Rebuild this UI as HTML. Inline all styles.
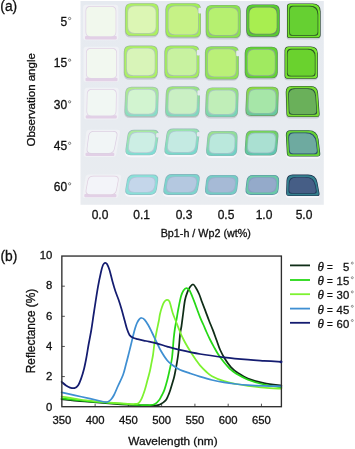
<!DOCTYPE html>
<html><head><meta charset="utf-8"><style>
html,body{margin:0;padding:0;background:#fff;}
body{width:355px;height:449px;overflow:hidden;position:relative;font-family:"Liberation Sans",sans-serif;}
svg{position:absolute;left:0;top:0;will-change:transform;}
text{stroke:#111;stroke-width:0.3px;}
</style></head><body>
<svg width="355" height="449" viewBox="0 0 355 449" font-family="Liberation Sans, sans-serif" font-size="11.3" fill="#111">
<defs>
<linearGradient id="bg" x1="0" y1="0" x2="0" y2="1">
<stop offset="0" stop-color="#e6eaf0"/><stop offset="0.6" stop-color="#e7ebf0"/><stop offset="1" stop-color="#e9ecf0"/>
</linearGradient>
<linearGradient id="g2_1" x1="0" y1="0" x2="0.25" y2="1"><stop offset="0" stop-color="#b4ec84"/><stop offset="1" stop-color="#88dcc8"/></linearGradient><linearGradient id="g2_2" x1="0" y1="0" x2="0.25" y2="1"><stop offset="0" stop-color="#a0e670"/><stop offset="1" stop-color="#80d8c0"/></linearGradient><linearGradient id="g2_3" x1="0" y1="0" x2="0.25" y2="1"><stop offset="0" stop-color="#a0e468"/><stop offset="1" stop-color="#78d4b8"/></linearGradient><linearGradient id="g2_4" x1="0" y1="0" x2="0.25" y2="1"><stop offset="0" stop-color="#90dc38"/><stop offset="1" stop-color="#68c8a0"/></linearGradient><linearGradient id="g3_1" x1="0" y1="0" x2="0.25" y2="1"><stop offset="0" stop-color="#b0ec98"/><stop offset="1" stop-color="#80dcd4"/></linearGradient><linearGradient id="g3_2" x1="0" y1="0" x2="0.25" y2="1"><stop offset="0" stop-color="#a0e6a8"/><stop offset="1" stop-color="#78d8cc"/></linearGradient><linearGradient id="g3_3" x1="0" y1="0" x2="0.25" y2="1"><stop offset="0" stop-color="#a0e288"/><stop offset="1" stop-color="#70d0c4"/></linearGradient><linearGradient id="g3_4" x1="0" y1="0" x2="0.25" y2="1"><stop offset="0" stop-color="#78d44c"/><stop offset="1" stop-color="#60c4b0"/></linearGradient>
</defs>
<rect x="80.5" y="1" width="243.3" height="203.8" fill="url(#bg)"/>
<path d="M83.00,7.70 Q83.00,4.70 86.00,4.70 L115.30,4.70 Q118.30,4.70 118.30,7.70 L118.30,37.20 Q118.30,40.20 115.30,40.20 L86.00,40.20 Q83.00,40.20 83.00,37.20 Z" fill="#f0f1f5"/><path d="M85.00,37.00 Q85.00,36.00 86.00,36.00 L115.80,36.00 Q116.80,36.00 116.80,37.00 L116.80,38.40 Q116.80,39.40 115.80,39.40 L86.00,39.40 Q85.00,39.40 85.00,38.40 Z" fill="#e2d0e6"/><path d="M85.50,11.00 Q85.50,6.00 90.50,6.00 L111.30,6.00 Q116.30,6.00 116.30,11.00 L116.30,32.00 Q116.30,37.00 111.30,37.00 L90.50,37.00 Q85.50,37.00 85.50,32.00 Z" fill="#e0d2e6"/><path d="M86.20,11.20 Q86.20,6.70 90.70,6.70 L111.10,6.70 Q115.60,6.70 115.60,11.20 L115.60,31.80 Q115.60,36.30 111.10,36.30 L90.70,36.30 Q86.20,36.30 86.20,31.80 Z" fill="#f1f8ed"/><path d="M124.80,10.60 Q124.80,4.60 130.80,4.60 L152.40,4.60 Q158.40,4.60 158.40,10.60 L158.40,31.50 Q158.40,37.50 152.40,37.50 L130.80,37.50 Q124.80,37.50 124.80,31.50 Z" fill="#c8ccd4"/><path d="M125.10,9.20 Q125.10,3.20 131.10,3.20 L152.70,3.20 Q158.70,3.20 158.70,9.20 L158.70,30.10 Q158.70,36.10 152.70,36.10 L131.10,36.10 Q125.10,36.10 125.10,30.10 Z" fill="#98b890"/><path d="M125.70,9.40 Q125.70,3.80 131.30,3.80 L152.50,3.80 Q158.10,3.80 158.10,9.40 L158.10,29.90 Q158.10,35.50 152.50,35.50 L131.30,35.50 Q125.70,35.50 125.70,29.90 Z" fill="#acf060"/><path d="M127.40,11.50 Q127.40,5.50 133.40,5.50 L150.40,5.50 Q156.40,5.50 156.40,11.50 L156.40,27.80 Q156.40,33.80 150.40,33.80 L133.40,33.80 Q127.40,33.80 127.40,27.80 Z" fill="#b4ccac"/><path d="M128.10,12.70 Q128.10,6.20 134.60,6.20 L149.20,6.20 Q155.70,6.20 155.70,12.70 L155.70,26.60 Q155.70,33.10 149.20,33.10 L134.60,33.10 Q128.10,33.10 128.10,26.60 Z" fill="#dcf6b4"/><path d="M165.20,10.60 Q165.20,4.60 171.20,4.60 L194.70,4.60 Q200.70,4.60 200.70,10.60 L200.70,32.80 Q200.70,38.80 194.70,38.80 L171.20,38.80 Q165.20,38.80 165.20,32.80 Z" fill="#c8ccd4"/><path d="M165.50,9.20 Q165.50,3.20 171.50,3.20 L195.00,3.20 Q201.00,3.20 201.00,9.20 L201.00,31.40 Q201.00,37.40 195.00,37.40 L171.50,37.40 Q165.50,37.40 165.50,31.40 Z" fill="#90b488"/><path d="M166.10,9.40 Q166.10,3.80 171.70,3.80 L194.80,3.80 Q200.40,3.80 200.40,9.40 L200.40,31.20 Q200.40,36.80 194.80,36.80 L171.70,36.80 Q166.10,36.80 166.10,31.20 Z" fill="#a0ee54"/><path d="M167.80,11.50 Q167.80,5.50 173.80,5.50 L192.70,5.50 Q198.70,5.50 198.70,11.50 L198.70,29.10 Q198.70,35.10 192.70,35.10 L173.80,35.10 Q167.80,35.10 167.80,29.10 Z" fill="#a4bca8"/><path d="M168.50,12.70 Q168.50,6.20 175.00,6.20 L191.50,6.20 Q198.00,6.20 198.00,12.70 L198.00,27.90 Q198.00,34.40 191.50,34.40 L175.00,34.40 Q168.50,34.40 168.50,27.90 Z" fill="#c6f286"/><rect x="198.40" y="7.65" width="3.2" height="5.81" rx="1.2" fill="#e6eaf0"/><path d="M205.50,12.40 Q205.50,6.40 211.50,6.40 L234.50,6.40 Q240.50,6.40 240.50,12.40 L240.50,33.40 Q240.50,39.40 234.50,39.40 L211.50,39.40 Q205.50,39.40 205.50,33.40 Z" fill="#c8ccd4"/><path d="M205.80,11.00 Q205.80,5.00 211.80,5.00 L234.80,5.00 Q240.80,5.00 240.80,11.00 L240.80,32.00 Q240.80,38.00 234.80,38.00 L211.80,38.00 Q205.80,38.00 205.80,32.00 Z" fill="#80a880"/><path d="M206.40,11.20 Q206.40,5.60 212.00,5.60 L234.60,5.60 Q240.20,5.60 240.20,11.20 L240.20,31.80 Q240.20,37.40 234.60,37.40 L212.00,37.40 Q206.40,37.40 206.40,31.80 Z" fill="#8ae44c"/><path d="M208.10,13.30 Q208.10,7.30 214.10,7.30 L232.50,7.30 Q238.50,7.30 238.50,13.30 L238.50,29.70 Q238.50,35.70 232.50,35.70 L214.10,35.70 Q208.10,35.70 208.10,29.70 Z" fill="#98b494"/><path d="M208.80,14.50 Q208.80,8.00 215.30,8.00 L231.30,8.00 Q237.80,8.00 237.80,14.50 L237.80,28.50 Q237.80,35.00 231.30,35.00 L215.30,35.00 Q208.80,35.00 208.80,28.50 Z" fill="#b6f070"/><path d="M246.00,11.80 Q246.00,5.80 252.00,5.80 L273.40,5.80 Q279.40,5.80 279.40,11.80 L279.40,32.20 Q279.40,38.20 273.40,38.20 L252.00,38.20 Q246.00,38.20 246.00,32.20 Z" fill="#c8ccd4"/><path d="M246.30,10.40 Q246.30,4.40 252.30,4.40 L273.70,4.40 Q279.70,4.40 279.70,10.40 L279.70,30.80 Q279.70,36.80 273.70,36.80 L252.30,36.80 Q246.30,36.80 246.30,30.80 Z" fill="#4a6c50"/><path d="M246.90,10.60 Q246.90,5.00 252.50,5.00 L273.50,5.00 Q279.10,5.00 279.10,10.60 L279.10,30.60 Q279.10,36.20 273.50,36.20 L252.50,36.20 Q246.90,36.20 246.90,30.60 Z" fill="#58cc30"/><path d="M248.60,12.70 Q248.60,6.70 254.60,6.70 L271.40,6.70 Q277.40,6.70 277.40,12.70 L277.40,28.50 Q277.40,34.50 271.40,34.50 L254.60,34.50 Q248.60,34.50 248.60,28.50 Z" fill="#668e64"/><path d="M249.30,13.90 Q249.30,7.40 255.80,7.40 L270.20,7.40 Q276.70,7.40 276.70,13.90 L276.70,27.30 Q276.70,33.80 270.20,33.80 L255.80,33.80 Q249.30,33.80 249.30,27.30 Z" fill="#a8ee50"/><path d="M286.70,7.90 Q286.70,4.90 289.70,4.90 L312.30,4.90 Q320.30,4.90 320.30,12.90 L320.30,36.40 Q320.30,39.40 317.30,39.40 L288.70,39.40 Q286.70,39.40 286.70,37.40 Z" fill="#c8ccd4"/><path d="M287.00,6.50 Q287.00,3.50 290.00,3.50 L312.60,3.50 Q320.60,3.50 320.60,11.50 L320.60,35.00 Q320.60,38.00 317.60,38.00 L289.00,38.00 Q287.00,38.00 287.00,36.00 Z" fill="#1e3a22"/><path d="M287.60,6.70 Q287.60,4.10 290.20,4.10 L312.40,4.10 Q320.00,4.10 320.00,11.70 L320.00,34.80 Q320.00,37.40 317.40,37.40 L289.20,37.40 Q287.60,37.40 287.60,35.80 Z" fill="#72e22e"/><path d="M289.30,8.80 Q289.30,5.80 292.30,5.80 L310.30,5.80 Q318.30,5.80 318.30,13.80 L318.30,32.70 Q318.30,35.70 315.30,35.70 L291.30,35.70 Q289.30,35.70 289.30,33.70 Z" fill="#2a5226"/><path d="M290.00,10.00 Q290.00,6.50 293.50,6.50 L309.10,6.50 Q317.60,6.50 317.60,15.00 L317.60,31.50 Q317.60,35.00 314.10,35.00 L292.50,35.00 Q290.00,35.00 290.00,32.50 Z" fill="#66d032"/><path d="M83.50,49.70 Q83.50,46.70 86.50,46.70 L116.00,46.70 Q119.00,46.70 119.00,49.70 L119.00,79.00 Q119.00,82.00 116.00,82.00 L86.50,82.00 Q83.50,82.00 83.50,79.00 Z" fill="#f0f1f5"/><path d="M85.50,78.80 Q85.50,77.80 86.50,77.80 L116.50,77.80 Q117.50,77.80 117.50,78.80 L117.50,80.20 Q117.50,81.20 116.50,81.20 L86.50,81.20 Q85.50,81.20 85.50,80.20 Z" fill="#e2d0e6"/><path d="M86.00,53.00 Q86.00,48.00 91.00,48.00 L112.00,48.00 Q117.00,48.00 117.00,53.00 L117.00,73.80 Q117.00,78.80 112.00,78.80 L91.00,78.80 Q86.00,78.80 86.00,73.80 Z" fill="#e0d2e6"/><path d="M86.70,53.20 Q86.70,48.70 91.20,48.70 L111.80,48.70 Q116.30,48.70 116.30,53.20 L116.30,73.60 Q116.30,78.10 111.80,78.10 L91.20,78.10 Q86.70,78.10 86.70,73.60 Z" fill="#f2f8f0"/><path d="M123.60,53.00 Q123.60,47.00 129.60,47.00 L151.40,47.00 Q157.40,47.00 157.40,53.00 L157.40,73.70 Q157.40,79.70 151.40,79.70 L129.60,79.70 Q123.60,79.70 123.60,73.70 Z" fill="#c8ccd4"/><path d="M123.90,51.60 Q123.90,45.60 129.90,45.60 L151.70,45.60 Q157.70,45.60 157.70,51.60 L157.70,72.30 Q157.70,78.30 151.70,78.30 L129.90,78.30 Q123.90,78.30 123.90,72.30 Z" fill="#98b898"/><path d="M124.50,51.80 Q124.50,46.20 130.10,46.20 L151.50,46.20 Q157.10,46.20 157.10,51.80 L157.10,72.10 Q157.10,77.70 151.50,77.70 L130.10,77.70 Q124.50,77.70 124.50,72.10 Z" fill="#acf064"/><path d="M126.20,53.90 Q126.20,47.90 132.20,47.90 L149.40,47.90 Q155.40,47.90 155.40,53.90 L155.40,70.00 Q155.40,76.00 149.40,76.00 L132.20,76.00 Q126.20,76.00 126.20,70.00 Z" fill="#b0c8b4"/><path d="M126.90,55.10 Q126.90,48.60 133.40,48.60 L148.20,48.60 Q154.70,48.60 154.70,55.10 L154.70,68.80 Q154.70,75.30 148.20,75.30 L133.40,75.30 Q126.90,75.30 126.90,68.80 Z" fill="#d8f4b8"/><path d="M164.20,53.00 Q164.20,47.00 170.20,47.00 L193.10,47.00 Q199.10,47.00 199.10,53.00 L199.10,73.70 Q199.10,79.70 193.10,79.70 L170.20,79.70 Q164.20,79.70 164.20,73.70 Z" fill="#c8ccd4"/><path d="M164.50,51.60 Q164.50,45.60 170.50,45.60 L193.40,45.60 Q199.40,45.60 199.40,51.60 L199.40,72.30 Q199.40,78.30 193.40,78.30 L170.50,78.30 Q164.50,78.30 164.50,72.30 Z" fill="#90b490"/><path d="M165.10,51.80 Q165.10,46.20 170.70,46.20 L193.20,46.20 Q198.80,46.20 198.80,51.80 L198.80,72.10 Q198.80,77.70 193.20,77.70 L170.70,77.70 Q165.10,77.70 165.10,72.10 Z" fill="#a4ee5c"/><path d="M166.80,53.90 Q166.80,47.90 172.80,47.90 L191.10,47.90 Q197.10,47.90 197.10,53.90 L197.10,70.00 Q197.10,76.00 191.10,76.00 L172.80,76.00 Q166.80,76.00 166.80,70.00 Z" fill="#a8c0ac"/><path d="M167.50,55.10 Q167.50,48.60 174.00,48.60 L189.90,48.60 Q196.40,48.60 196.40,55.10 L196.40,68.80 Q196.40,75.30 189.90,75.30 L174.00,75.30 Q167.50,75.30 167.50,68.80 Z" fill="#c8f2a0"/><rect x="196.80" y="49.85" width="3.2" height="5.56" rx="1.2" fill="#e6eaf0"/><path d="M204.70,53.70 Q204.70,47.70 210.70,47.70 L232.50,47.70 Q238.50,47.70 238.50,53.70 L238.50,74.80 Q238.50,80.80 232.50,80.80 L210.70,80.80 Q204.70,80.80 204.70,74.80 Z" fill="#c8ccd4"/><path d="M205.00,52.30 Q205.00,46.30 211.00,46.30 L232.80,46.30 Q238.80,46.30 238.80,52.30 L238.80,73.40 Q238.80,79.40 232.80,79.40 L211.00,79.40 Q205.00,79.40 205.00,73.40 Z" fill="#84b080"/><path d="M205.60,52.50 Q205.60,46.90 211.20,46.90 L232.60,46.90 Q238.20,46.90 238.20,52.50 L238.20,73.20 Q238.20,78.80 232.60,78.80 L211.20,78.80 Q205.60,78.80 205.60,73.20 Z" fill="#90e454"/><path d="M207.30,54.60 Q207.30,48.60 213.30,48.60 L230.50,48.60 Q236.50,48.60 236.50,54.60 L236.50,71.10 Q236.50,77.10 230.50,77.10 L213.30,77.10 Q207.30,77.10 207.30,71.10 Z" fill="#a0b8a4"/><path d="M208.00,55.80 Q208.00,49.30 214.50,49.30 L229.30,49.30 Q235.80,49.30 235.80,55.80 L235.80,69.90 Q235.80,76.40 229.30,76.40 L214.50,76.40 Q208.00,76.40 208.00,69.90 Z" fill="#baf078"/><rect x="236.20" y="50.60" width="3.2" height="5.63" rx="1.2" fill="#e6eaf0"/><path d="M244.50,54.10 Q244.50,48.10 250.50,48.10 L271.50,48.10 Q277.50,48.10 277.50,54.10 L277.50,73.70 Q277.50,79.70 271.50,79.70 L250.50,79.70 Q244.50,79.70 244.50,73.70 Z" fill="#c8ccd4"/><path d="M244.80,52.70 Q244.80,46.70 250.80,46.70 L271.80,46.70 Q277.80,46.70 277.80,52.70 L277.80,72.30 Q277.80,78.30 271.80,78.30 L250.80,78.30 Q244.80,78.30 244.80,72.30 Z" fill="#5a8c58"/><path d="M245.40,52.90 Q245.40,47.30 251.00,47.30 L271.60,47.30 Q277.20,47.30 277.20,52.90 L277.20,72.10 Q277.20,77.70 271.60,77.70 L251.00,77.70 Q245.40,77.70 245.40,72.10 Z" fill="#62d234"/><path d="M247.10,55.00 Q247.10,49.00 253.10,49.00 L269.50,49.00 Q275.50,49.00 275.50,55.00 L275.50,70.00 Q275.50,76.00 269.50,76.00 L253.10,76.00 Q247.10,76.00 247.10,70.00 Z" fill="#88ac88"/><path d="M247.80,56.20 Q247.80,49.70 254.30,49.70 L268.30,49.70 Q274.80,49.70 274.80,56.20 L274.80,68.80 Q274.80,75.30 268.30,75.30 L254.30,75.30 Q247.80,75.30 247.80,68.80 Z" fill="#a0ea60"/><path d="M284.30,51.80 Q284.30,47.80 288.30,47.80 L310.50,47.80 Q317.50,47.80 317.50,54.80 L317.50,77.20 Q317.50,80.20 314.50,80.20 L287.30,80.20 Q284.30,80.20 284.30,77.20 Z" fill="#c8ccd4"/><path d="M284.60,50.40 Q284.60,46.40 288.60,46.40 L310.80,46.40 Q317.80,46.40 317.80,53.40 L317.80,75.80 Q317.80,78.80 314.80,78.80 L287.60,78.80 Q284.60,78.80 284.60,75.80 Z" fill="#1e4020"/><path d="M285.20,50.60 Q285.20,47.00 288.80,47.00 L310.60,47.00 Q317.20,47.00 317.20,53.60 L317.20,75.60 Q317.20,78.20 314.60,78.20 L287.80,78.20 Q285.20,78.20 285.20,75.60 Z" fill="#7ae434"/><path d="M286.90,52.70 Q286.90,48.70 290.90,48.70 L308.50,48.70 Q315.50,48.70 315.50,55.70 L315.50,73.50 Q315.50,76.50 312.50,76.50 L289.90,76.50 Q286.90,76.50 286.90,73.50 Z" fill="#2a5226"/><path d="M287.60,53.90 Q287.60,49.40 292.10,49.40 L307.30,49.40 Q314.80,49.40 314.80,56.90 L314.80,72.30 Q314.80,75.80 311.30,75.80 L291.10,75.80 Q287.60,75.80 287.60,72.30 Z" fill="#6ad22e"/><path d="M84.43,90.70 Q84.50,87.70 87.50,87.70 L115.80,87.70 Q118.80,87.70 118.75,90.70 L118.35,116.40 Q118.30,119.40 115.30,119.40 L86.80,119.40 Q83.80,119.40 83.87,116.40 Z" fill="#f0f1f5"/><path d="M85.80,116.20 Q85.80,115.20 86.80,115.20 L115.80,115.20 Q116.80,115.20 116.80,116.20 L116.80,117.60 Q116.80,118.60 115.80,118.60 L86.80,118.60 Q85.80,118.60 85.80,117.60 Z" fill="#e2d0e6"/><path d="M86.87,94.00 Q87.00,89.00 92.00,89.00 L111.80,89.00 Q116.80,89.00 116.71,94.00 L116.39,111.20 Q116.30,116.20 111.30,116.20 L91.30,116.20 Q86.30,116.20 86.43,111.20 Z" fill="#e0d2e6"/><path d="M87.57,94.20 Q87.68,89.70 92.18,89.70 L111.59,89.70 Q116.09,89.70 116.00,94.20 L115.70,111.00 Q115.61,115.50 111.11,115.50 L91.52,115.50 Q87.02,115.50 87.13,111.00 Z" fill="#f1f7f3"/><path d="M124.96,94.20 Q125.20,88.20 131.20,88.20 L152.50,88.20 Q158.50,88.20 158.34,94.20 L157.86,112.10 Q157.70,118.10 151.70,118.10 L130.00,118.10 Q124.00,118.10 124.24,112.10 Z" fill="#c8ccd4"/><path d="M125.26,92.80 Q125.50,86.80 131.50,86.80 L152.80,86.80 Q158.80,86.80 158.64,92.80 L158.16,110.70 Q158.00,116.70 152.00,116.70 L130.30,116.70 Q124.30,116.70 124.54,110.70 Z" fill="#a0c0b0"/><path d="M125.85,93.00 Q126.08,87.40 131.68,87.40 L152.58,87.40 Q158.18,87.40 158.03,93.00 L157.57,110.50 Q157.42,116.10 151.82,116.10 L130.52,116.10 Q124.92,116.10 125.15,110.50 Z" fill="url(#g2_1)"/><path d="M127.47,95.10 Q127.71,89.10 133.71,89.10 L150.44,89.10 Q156.44,89.10 156.28,95.10 L155.92,108.40 Q155.76,114.40 149.76,114.40 L132.69,114.40 Q126.69,114.40 126.93,108.40 Z" fill="#b4ccc8"/><path d="M128.12,96.29 Q128.38,89.80 134.88,89.80 L149.22,89.80 Q155.72,89.80 155.54,96.30 L155.25,107.20 Q155.08,113.70 148.58,113.70 L133.92,113.70 Q127.42,113.70 127.68,107.21 Z" fill="#d2f4d0"/><path d="M165.66,93.70 Q165.90,87.70 171.90,87.70 L193.90,87.70 Q199.90,87.70 199.74,93.70 L199.26,112.10 Q199.10,118.10 193.10,118.10 L170.70,118.10 Q164.70,118.10 164.94,112.10 Z" fill="#c8ccd4"/><path d="M165.96,92.30 Q166.20,86.30 172.20,86.30 L194.20,86.30 Q200.20,86.30 200.04,92.30 L199.56,110.70 Q199.40,116.70 193.40,116.70 L171.00,116.70 Q165.00,116.70 165.24,110.70 Z" fill="#98bca8"/><path d="M166.56,92.50 Q166.78,86.90 172.38,86.90 L193.98,86.90 Q199.58,86.90 199.44,92.50 L198.96,110.50 Q198.82,116.10 193.22,116.10 L171.22,116.10 Q165.62,116.10 165.85,110.50 Z" fill="url(#g2_2)"/><path d="M168.17,94.60 Q168.41,88.60 174.41,88.60 L191.84,88.60 Q197.84,88.60 197.68,94.60 L197.32,108.40 Q197.16,114.40 191.16,114.40 L173.39,114.40 Q167.39,114.40 167.63,108.40 Z" fill="#acc8c4"/><path d="M168.83,95.79 Q169.08,89.30 175.58,89.30 L190.62,89.30 Q197.12,89.30 196.95,95.80 L196.65,107.20 Q196.48,113.70 189.98,113.70 L174.62,113.70 Q168.12,113.70 168.38,107.21 Z" fill="#caf0c4"/><rect x="197.44" y="90.25" width="3.2" height="5.17" rx="1.2" fill="#e6eaf0"/><path d="M205.66,94.90 Q205.90,88.90 211.90,88.90 L232.40,88.90 Q238.40,88.90 238.24,94.90 L237.76,112.40 Q237.60,118.40 231.60,118.40 L210.70,118.40 Q204.70,118.40 204.94,112.40 Z" fill="#c8ccd4"/><path d="M205.96,93.50 Q206.20,87.50 212.20,87.50 L232.70,87.50 Q238.70,87.50 238.54,93.50 L238.06,111.00 Q237.90,117.00 231.90,117.00 L211.00,117.00 Q205.00,117.00 205.24,111.00 Z" fill="#8cb49c"/><path d="M206.55,93.70 Q206.78,88.10 212.38,88.10 L232.48,88.10 Q238.08,88.10 237.93,93.70 L237.47,110.80 Q237.32,116.40 231.72,116.40 L211.22,116.40 Q205.62,116.40 205.85,110.80 Z" fill="url(#g2_3)"/><path d="M208.16,95.80 Q208.41,89.80 214.41,89.80 L230.34,89.80 Q236.34,89.80 236.17,95.80 L235.82,108.70 Q235.66,114.70 229.66,114.70 L213.40,114.70 Q207.40,114.70 207.64,108.70 Z" fill="#a8c8c0"/><path d="M208.82,96.99 Q209.08,90.50 215.58,90.50 L229.12,90.50 Q235.62,90.50 235.44,97.00 L235.16,107.50 Q234.98,114.00 228.48,114.00 L214.62,114.00 Q208.12,114.00 208.39,107.51 Z" fill="#c0eeb8"/><path d="M245.95,94.09 Q246.20,88.10 252.20,88.10 L272.50,88.10 Q278.50,88.10 278.34,94.10 L277.86,111.30 Q277.70,117.30 271.70,117.30 L251.00,117.30 Q245.00,117.30 245.25,111.31 Z" fill="#c8ccd4"/><path d="M246.25,92.69 Q246.50,86.70 252.50,86.70 L272.80,86.70 Q278.80,86.70 278.64,92.70 L278.16,109.90 Q278.00,115.90 272.00,115.90 L251.30,115.90 Q245.30,115.90 245.55,109.91 Z" fill="#6a9a60"/><path d="M246.85,92.90 Q247.08,87.30 252.68,87.30 L272.58,87.30 Q278.18,87.30 278.03,92.90 L277.57,109.70 Q277.42,115.30 271.82,115.30 L251.53,115.30 Q245.93,115.30 246.16,109.70 Z" fill="url(#g2_4)"/><path d="M248.46,94.99 Q248.71,89.00 254.71,89.00 L270.44,89.00 Q276.44,89.00 276.27,95.00 L275.93,107.60 Q275.76,113.60 269.76,113.60 L253.70,113.60 Q247.70,113.60 247.94,107.61 Z" fill="#94bca8"/><path d="M249.11,96.19 Q249.38,89.70 255.88,89.70 L269.22,89.70 Q275.72,89.70 275.54,96.20 L275.26,106.40 Q275.08,112.90 268.58,112.90 L254.93,112.90 Q248.43,112.90 248.69,106.41 Z" fill="#a6e6a8"/><path d="M285.49,93.40 Q285.30,87.40 291.30,87.40 L310.30,87.40 Q317.30,87.40 317.79,94.38 L319.29,115.51 Q319.50,118.50 316.50,118.50 L289.30,118.50 Q286.30,118.50 286.20,115.50 Z" fill="#c8ccd4"/><path d="M285.79,92.00 Q285.60,86.00 291.60,86.00 L310.60,86.00 Q317.60,86.00 318.09,92.98 L319.59,114.11 Q319.80,117.10 316.80,117.10 L289.60,117.10 Q286.60,117.10 286.50,114.10 Z" fill="#22482e"/><path d="M286.40,92.20 Q286.22,86.60 291.82,86.60 L310.44,86.60 Q317.04,86.60 317.51,93.18 L318.97,113.91 Q319.16,116.50 316.56,116.50 L289.78,116.50 Q287.18,116.50 287.10,113.90 Z" fill="#78dc30"/><path d="M288.17,94.30 Q287.98,88.30 293.98,88.30 L308.46,88.30 Q315.46,88.30 315.95,95.28 L317.12,111.81 Q317.33,114.80 314.33,114.80 L291.83,114.80 Q288.83,114.80 288.73,111.80 Z" fill="#2a5040"/><path d="M288.91,95.50 Q288.70,89.00 295.20,89.00 L307.30,89.00 Q314.80,89.00 315.33,96.48 L316.33,110.61 Q316.58,114.10 313.08,114.10 L293.01,114.10 Q289.51,114.10 289.39,110.60 Z" fill="#6ab05a"/><path d="M86.17,132.68 Q86.50,129.70 89.50,129.70 L117.30,129.70 Q120.30,129.70 119.81,132.66 L116.29,153.94 Q115.80,156.90 112.80,156.90 L86.50,156.90 Q83.50,156.90 83.83,153.92 Z" fill="#f0f1f5"/><path d="M85.50,153.70 Q85.50,152.70 86.50,152.70 L113.30,152.70 Q114.30,152.70 114.30,153.70 L114.30,155.10 Q114.30,156.10 113.30,156.10 L86.50,156.10 Q85.50,156.10 85.50,155.10 Z" fill="#e2d0e6"/><path d="M88.34,135.96 Q89.00,131.00 94.00,131.00 L113.30,131.00 Q118.30,131.00 117.33,135.90 L114.77,148.80 Q113.80,153.70 108.80,153.70 L91.00,153.70 Q86.00,153.70 86.66,148.74 Z" fill="#dccfe2"/><path d="M89.02,136.16 Q89.61,131.70 94.11,131.70 L112.95,131.70 Q117.45,131.70 116.57,136.11 L114.10,148.59 Q113.23,153.00 108.73,153.00 L91.30,153.00 Q86.80,153.00 87.39,148.54 Z" fill="#f1f5f6"/><path d="M127.06,137.74 Q127.90,131.80 133.90,131.80 L153.20,131.80 Q159.20,131.80 158.34,137.74 L156.36,151.36 Q155.50,157.30 149.50,157.30 L130.30,157.30 Q124.30,157.30 125.14,151.36 Z" fill="#f6f6fa"/><path d="M127.36,135.74 Q128.20,129.80 134.20,129.80 L153.50,129.80 Q159.50,129.80 158.64,135.74 L156.66,149.36 Q155.80,155.30 149.80,155.30 L130.60,155.30 Q124.60,155.30 125.44,149.36 Z" fill="#98bcbc"/><path d="M127.94,135.95 Q128.72,130.40 134.32,130.40 L153.21,130.40 Q158.81,130.40 158.00,135.94 L156.08,149.16 Q155.28,154.70 149.68,154.70 L130.89,154.70 Q125.29,154.70 126.07,149.15 Z" fill="url(#g3_1)"/><path d="M129.36,138.04 Q130.20,132.10 136.20,132.10 L150.84,132.10 Q156.84,132.10 155.98,138.04 L154.67,147.06 Q153.81,153.00 147.81,153.00 L133.25,153.00 Q127.25,153.00 128.09,147.06 Z" fill="#b4ccd4"/><path d="M129.90,139.24 Q130.81,132.80 137.31,132.80 L149.53,132.80 Q156.03,132.80 155.10,139.23 L154.14,145.87 Q153.20,152.30 146.70,152.30 L134.55,152.30 Q128.05,152.30 128.96,145.86 Z" fill="#cceee4"/><rect x="156.16" y="133.12" width="3.2" height="4.33" rx="1.2" fill="#e6eaf0"/><path d="M166.09,136.54 Q166.90,130.60 172.90,130.60 L193.90,130.60 Q199.90,130.60 199.20,136.56 L197.50,151.04 Q196.80,157.00 190.80,157.00 L169.30,157.00 Q163.30,157.00 164.11,151.06 Z" fill="#f6f6fa"/><path d="M166.39,134.54 Q167.20,128.60 173.20,128.60 L194.20,128.60 Q200.20,128.60 199.50,134.56 L197.80,149.04 Q197.10,155.00 191.10,155.00 L169.60,155.00 Q163.60,155.00 164.41,149.06 Z" fill="#94b8b8"/><path d="M166.97,134.75 Q167.72,129.20 173.32,129.20 L193.93,129.20 Q199.53,129.20 198.87,134.76 L197.22,148.84 Q196.57,154.40 190.97,154.40 L169.89,154.40 Q164.29,154.40 165.04,148.85 Z" fill="url(#g3_2)"/><path d="M168.40,136.84 Q169.21,130.90 175.21,130.90 L191.61,130.90 Q197.61,130.90 196.91,136.86 L195.75,146.74 Q195.05,152.70 189.05,152.70 L172.23,152.70 Q166.23,152.70 167.05,146.76 Z" fill="#acc8d0"/><path d="M168.94,138.04 Q169.82,131.60 176.32,131.60 L190.33,131.60 Q196.83,131.60 196.07,138.06 L195.19,145.54 Q194.43,152.00 187.93,152.00 L173.54,152.00 Q167.04,152.00 167.92,145.56 Z" fill="#c4eae2"/><rect x="196.98" y="132.03" width="3.2" height="4.49" rx="1.2" fill="#e6eaf0"/><path d="M207.03,138.97 Q207.60,133.00 213.60,133.00 L231.50,133.00 Q237.50,133.00 237.31,139.00 L236.89,152.10 Q236.70,158.10 230.70,158.10 L211.20,158.10 Q205.20,158.10 205.77,152.13 Z" fill="#f6f6fa"/><path d="M207.33,136.97 Q207.90,131.00 213.90,131.00 L231.80,131.00 Q237.80,131.00 237.61,137.00 L237.19,150.10 Q237.00,156.10 231.00,156.10 L211.50,156.10 Q205.50,156.10 206.07,150.13 Z" fill="#8cb4b4"/><path d="M207.91,137.17 Q208.45,131.60 214.05,131.60 L231.58,131.60 Q237.18,131.60 237.00,137.20 L236.60,149.90 Q236.42,155.50 230.82,155.50 L211.76,155.50 Q206.16,155.50 206.69,149.93 Z" fill="url(#g3_3)"/><path d="M209.42,139.27 Q209.99,133.30 215.99,133.30 L229.43,133.30 Q235.43,133.30 235.23,139.30 L234.96,147.80 Q234.77,153.80 228.77,153.80 L214.03,153.80 Q208.03,153.80 208.60,147.83 Z" fill="#a4c4cc"/><path d="M210.01,140.47 Q210.63,134.00 217.13,134.00 L228.20,134.00 Q234.70,134.00 234.50,140.50 L234.30,146.60 Q234.09,153.10 227.59,153.10 L215.30,153.10 Q208.80,153.10 209.42,146.63 Z" fill="#bae8dc"/><path d="M245.29,138.39 Q245.70,132.40 251.70,132.40 L272.70,132.40 Q278.70,132.40 278.13,138.37 L276.87,151.53 Q276.30,157.50 270.30,157.50 L250.00,157.50 Q244.00,157.50 244.41,151.51 Z" fill="#f6f6fa"/><path d="M245.59,136.39 Q246.00,130.40 252.00,130.40 L273.00,130.40 Q279.00,130.40 278.43,136.37 L277.17,149.53 Q276.60,155.50 270.60,155.50 L250.30,155.50 Q244.30,155.50 244.71,149.51 Z" fill="#6a9c88"/><path d="M246.18,136.59 Q246.56,131.00 252.16,131.00 L272.74,131.00 Q278.34,131.00 277.81,136.57 L276.59,149.33 Q276.05,154.90 270.45,154.90 L250.54,154.90 Q244.94,154.90 245.32,149.31 Z" fill="url(#g3_4)"/><path d="M247.74,138.69 Q248.15,132.70 254.15,132.70 L270.47,132.70 Q276.47,132.70 275.90,138.67 L275.08,147.23 Q274.51,153.20 268.51,153.20 L252.76,153.20 Q246.76,153.20 247.17,147.21 Z" fill="#98c0c4"/><path d="M248.36,139.89 Q248.80,133.40 255.30,133.40 L269.20,133.40 Q275.70,133.40 275.08,139.87 L274.49,146.03 Q273.87,152.50 267.37,152.50 L254.01,152.50 Q247.51,152.50 247.95,146.01 Z" fill="#aae0d2"/><path d="M285.56,137.19 Q285.30,132.20 290.30,132.20 L308.20,132.20 Q317.20,132.20 318.25,141.14 L319.95,155.62 Q320.30,158.60 317.30,158.60 L289.70,158.60 Q286.70,158.60 286.54,155.60 Z" fill="#f6f6fa"/><path d="M285.86,135.19 Q285.60,130.20 290.60,130.20 L308.50,130.20 Q317.50,130.20 318.55,139.14 L320.25,153.62 Q320.60,156.60 317.60,156.60 L290.00,156.60 Q287.00,156.60 286.84,153.60 Z" fill="#1e4a3a"/><path d="M286.48,135.39 Q286.23,130.80 290.83,130.80 L308.37,130.80 Q316.97,130.80 317.97,139.34 L319.62,153.42 Q319.93,156.00 317.33,156.00 L290.17,156.00 Q287.57,156.00 287.43,153.40 Z" fill="#66d036"/><path d="M288.29,137.49 Q288.03,132.50 293.03,132.50 L306.45,132.50 Q315.45,132.50 316.50,141.44 L317.66,151.32 Q318.01,154.30 315.01,154.30 L292.18,154.30 Q289.18,154.30 289.02,151.30 Z" fill="#284c70"/><path d="M289.05,138.69 Q288.76,133.20 294.26,133.20 L305.33,133.20 Q314.83,133.20 315.94,142.64 L316.82,150.12 Q317.23,153.60 313.73,153.60 L293.35,153.60 Q289.85,153.60 289.66,150.10 Z" fill="#6eaaa0"/><path d="M85.45,177.47 Q85.90,174.50 88.90,174.50 L118.50,174.50 Q121.50,174.50 121.05,177.47 L118.35,195.13 Q117.90,198.10 114.90,198.10 L85.30,198.10 Q82.30,198.10 82.75,195.13 Z" fill="#f0f1f5"/><path d="M84.30,194.90 Q84.30,193.90 85.30,193.90 L115.40,193.90 Q116.40,193.90 116.40,194.90 L116.40,196.30 Q116.40,197.30 115.40,197.30 L85.30,197.30 Q84.30,197.30 84.30,196.30 Z" fill="#e2d0e6"/><path d="M87.47,180.71 Q88.40,175.80 93.40,175.80 L114.50,175.80 Q119.50,175.80 118.57,180.71 L116.83,189.99 Q115.90,194.90 110.90,194.90 L89.80,194.90 Q84.80,194.90 85.73,189.99 Z" fill="#e0cfe0"/><path d="M88.15,180.92 Q88.98,176.50 93.48,176.50 L114.16,176.50 Q118.66,176.50 117.82,180.92 L116.15,189.78 Q115.32,194.20 110.82,194.20 L90.14,194.20 Q85.64,194.20 86.48,189.78 Z" fill="#f3f4f9"/><path d="M126.55,182.51 Q127.60,176.60 133.60,176.60 L152.70,176.60 Q158.70,176.60 157.85,182.54 L156.65,190.96 Q155.80,196.90 149.80,196.90 L130.00,196.90 Q124.00,196.90 125.05,190.99 Z" fill="#f6f6fa"/><path d="M126.85,180.51 Q127.90,174.60 133.90,174.60 L153.00,174.60 Q159.00,174.60 158.15,180.54 L156.95,188.96 Q156.10,194.90 150.10,194.90 L130.30,194.90 Q124.30,194.90 125.35,188.99 Z" fill="#90bcc4"/><path d="M127.43,180.71 Q128.40,175.20 134.00,175.20 L152.71,175.20 Q158.31,175.20 157.52,180.74 L156.37,188.76 Q155.58,194.30 149.98,194.30 L130.62,194.30 Q125.02,194.30 125.99,188.79 Z" fill="#8ae0d8"/><path d="M128.78,182.81 Q129.83,176.90 135.83,176.90 L150.35,176.90 Q156.35,176.90 155.50,182.84 L154.95,186.66 Q154.11,192.60 148.11,192.60 L133.04,192.60 Q127.04,192.60 128.09,186.69 Z" fill="#b0c4d8"/><path d="M129.28,184.00 Q130.41,177.60 136.91,177.60 L149.04,177.60 Q155.54,177.60 154.62,184.03 L154.42,185.47 Q153.50,191.90 147.00,191.90 L134.38,191.90 Q127.88,191.90 129.01,185.50 Z" fill="#c4d6ea"/><path d="M164.68,182.01 Q165.70,176.10 171.70,176.10 L194.40,176.10 Q200.40,176.10 199.38,182.01 L197.82,190.99 Q196.80,196.90 190.80,196.90 L168.10,196.90 Q162.10,196.90 163.12,190.99 Z" fill="#f6f6fa"/><path d="M164.98,180.01 Q166.00,174.10 172.00,174.10 L194.70,174.10 Q200.70,174.10 199.68,180.01 L198.12,188.99 Q197.10,194.90 191.10,194.90 L168.40,194.90 Q162.40,194.90 163.42,188.99 Z" fill="#88b0bc"/><path d="M165.55,180.22 Q166.51,174.70 172.11,174.70 L194.39,174.70 Q199.99,174.70 199.03,180.22 L197.55,188.78 Q196.59,194.30 190.99,194.30 L168.71,194.30 Q163.11,194.30 164.07,188.78 Z" fill="#7cd4cc"/><path d="M166.91,182.31 Q167.94,176.40 173.94,176.40 L191.97,176.40 Q197.97,176.40 196.94,182.31 L196.19,186.69 Q195.16,192.60 189.16,192.60 L171.13,192.60 Q165.13,192.60 166.16,186.69 Z" fill="#a4b8d0"/><path d="M167.42,183.50 Q168.53,177.10 175.03,177.10 L190.64,177.10 Q197.14,177.10 196.03,183.50 L195.68,185.50 Q194.57,191.90 188.07,191.90 L172.46,191.90 Q165.96,191.90 167.07,185.50 Z" fill="#b4c8e0"/><path d="M205.68,182.96 Q206.40,177.00 212.40,177.00 L232.70,177.00 Q238.70,177.00 237.98,182.96 L237.02,190.94 Q236.30,196.90 230.30,196.90 L210.00,196.90 Q204.00,196.90 204.72,190.94 Z" fill="#f6f6fa"/><path d="M205.98,180.96 Q206.70,175.00 212.70,175.00 L233.00,175.00 Q239.00,175.00 238.28,180.96 L237.32,188.94 Q236.60,194.90 230.60,194.90 L210.30,194.90 Q204.30,194.90 205.02,188.94 Z" fill="#80a8b8"/><path d="M206.56,181.16 Q207.23,175.60 212.83,175.60 L232.72,175.60 Q238.32,175.60 237.65,181.16 L236.74,188.74 Q236.07,194.30 230.47,194.30 L210.58,194.30 Q204.98,194.30 205.65,188.74 Z" fill="#74ccc4"/><path d="M208.02,183.26 Q208.74,177.30 214.74,177.30 L230.41,177.30 Q236.41,177.30 235.69,183.26 L235.28,186.64 Q234.56,192.60 228.56,192.60 L212.89,192.60 Q206.89,192.60 207.61,186.64 Z" fill="#9cb0cc"/><path d="M208.58,184.45 Q209.36,178.00 215.86,178.00 L229.12,178.00 Q235.62,178.00 234.84,184.45 L234.72,185.45 Q233.94,191.90 227.44,191.90 L214.18,191.90 Q207.68,191.90 208.46,185.45 Z" fill="#a6bad6"/><path d="M246.18,182.96 Q246.90,177.00 252.90,177.00 L273.20,177.00 Q279.20,177.00 278.84,182.99 L278.36,190.91 Q278.00,196.90 272.00,196.90 L250.50,196.90 Q244.50,196.90 245.22,190.94 Z" fill="#f6f6fa"/><path d="M246.48,180.96 Q247.20,175.00 253.20,175.00 L273.50,175.00 Q279.50,175.00 279.14,180.99 L278.66,188.91 Q278.30,194.90 272.30,194.90 L250.80,194.90 Q244.80,194.90 245.52,188.94 Z" fill="#5a8ca4"/><path d="M247.06,181.16 Q247.73,175.60 253.33,175.60 L273.26,175.60 Q278.86,175.60 278.53,181.19 L278.07,188.71 Q277.74,194.30 272.14,194.30 L251.08,194.30 Q245.48,194.30 246.15,188.74 Z" fill="#6ac8a8"/><path d="M248.52,183.26 Q249.24,177.30 255.24,177.30 L271.06,177.30 Q277.06,177.30 276.70,183.29 L276.50,186.61 Q276.13,192.60 270.13,192.60 L253.39,192.60 Q247.39,192.60 248.11,186.64 Z" fill="#8a9cc4"/><path d="M249.08,184.45 Q249.86,178.00 256.36,178.00 L269.81,178.00 Q276.31,178.00 275.92,184.49 L275.87,185.41 Q275.48,191.90 268.98,191.90 L254.68,191.90 Q248.18,191.90 248.96,185.45 Z" fill="#94aaca"/><path d="M286.20,182.60 Q286.40,176.60 292.40,176.60 L307.70,176.60 Q315.70,176.60 317.16,184.47 L319.15,195.15 Q319.70,198.10 316.70,198.10 L288.70,198.10 Q285.70,198.10 285.80,195.10 Z" fill="#f6f6fa"/><path d="M286.50,180.60 Q286.70,174.60 292.70,174.60 L308.00,174.60 Q316.00,174.60 317.46,182.47 L319.45,193.15 Q320.00,196.10 317.00,196.10 L289.00,196.10 Q286.00,196.10 286.10,193.10 Z" fill="#1a2a48"/><path d="M287.10,180.80 Q287.28,175.20 292.88,175.20 L307.90,175.20 Q315.50,175.20 316.89,182.67 L318.80,192.94 Q319.28,195.50 316.68,195.50 L289.22,195.50 Q286.62,195.50 286.70,192.90 Z" fill="#35808e"/><path d="M288.73,182.90 Q288.93,176.90 294.93,176.90 L306.09,176.90 Q314.09,176.90 315.55,184.77 L316.68,190.85 Q317.23,193.80 314.23,193.80 L291.38,193.80 Q288.38,193.80 288.47,190.80 Z" fill="#22385a"/><path d="M289.39,184.10 Q289.60,177.60 296.10,177.60 L305.01,177.60 Q313.51,177.60 315.06,185.96 L315.75,189.66 Q316.39,193.10 312.89,193.10 L292.60,193.10 Q289.10,193.10 289.21,189.60 Z" fill="#465e86"/>
<text x="0.3" y="11.2" font-size="13.8">(a)</text>
<text x="67.2" y="25.5" text-anchor="end" font-size="12">5</text><circle cx="69.6" cy="18.5" r="1.15" fill="none" stroke="#222" stroke-width="0.55"/><text x="67.2" y="67.2" text-anchor="end" font-size="12">15</text><circle cx="69.6" cy="60.2" r="1.15" fill="none" stroke="#222" stroke-width="0.55"/><text x="67.2" y="108.8" text-anchor="end" font-size="12">30</text><circle cx="69.6" cy="101.8" r="1.15" fill="none" stroke="#222" stroke-width="0.55"/><text x="67.2" y="150.3" text-anchor="end" font-size="12">45</text><circle cx="69.6" cy="143.3" r="1.15" fill="none" stroke="#222" stroke-width="0.55"/><text x="67.2" y="190.8" text-anchor="end" font-size="12">60</text><circle cx="69.6" cy="183.8" r="1.15" fill="none" stroke="#222" stroke-width="0.55"/>
<text transform="translate(34.6,99.8) rotate(-90)" text-anchor="middle" font-size="11.5">Observation angle</text>
<text x="100.0" y="218.8" text-anchor="middle" font-size="12">0.0</text><text x="141.7" y="218.8" text-anchor="middle" font-size="12">0.1</text><text x="184.0" y="218.8" text-anchor="middle" font-size="12">0.3</text><text x="226.0" y="218.8" text-anchor="middle" font-size="12">0.5</text><text x="264.0" y="218.8" text-anchor="middle" font-size="12">1.0</text><text x="304.0" y="218.8" text-anchor="middle" font-size="12">5.0</text>
<text x="205.8" y="237" text-anchor="middle" font-size="10.75">Bp1-h / Wp2 (wt%)</text>
<text x="0.5" y="261.2" font-size="13.8">(b)</text>
<text transform="translate(34.8,331) rotate(-90)" text-anchor="middle" font-size="11.9">Reflectance (%)</text>
<text x="61.85" y="424.30" text-anchor="middle">350</text><text x="95.12" y="424.30" text-anchor="middle">400</text><text x="128.38" y="424.30" text-anchor="middle">450</text><text x="161.65" y="424.30" text-anchor="middle">500</text><text x="194.91" y="424.30" text-anchor="middle">550</text><text x="228.18" y="424.30" text-anchor="middle">600</text><text x="261.44" y="424.30" text-anchor="middle">650</text>
<text x="52.40" y="410.50" text-anchor="end">0</text><text x="52.40" y="380.17" text-anchor="end">2</text><text x="52.40" y="349.84" text-anchor="end">4</text><text x="52.40" y="319.51" text-anchor="end">6</text><text x="52.40" y="289.18" text-anchor="end">8</text><text x="52.40" y="258.85" text-anchor="end">10</text>
<text x="172.9" y="445" text-anchor="middle" font-size="11.8">Wavelength (nm)</text>
<g stroke="#555" stroke-width="1"><line x1="95.12" y1="406.70" x2="95.12" y2="403.70"/><line x1="128.38" y1="406.70" x2="128.38" y2="403.70"/><line x1="161.65" y1="406.70" x2="161.65" y2="403.70"/><line x1="194.91" y1="406.70" x2="194.91" y2="403.70"/><line x1="228.18" y1="406.70" x2="228.18" y2="403.70"/><line x1="261.44" y1="406.70" x2="261.44" y2="403.70"/><line x1="61.85" y1="376.57" x2="64.85" y2="376.57"/><line x1="61.85" y1="346.44" x2="64.85" y2="346.44"/><line x1="61.85" y1="316.31" x2="64.85" y2="316.31"/><line x1="61.85" y1="286.18" x2="64.85" y2="286.18"/></g>
<path d="M61.60,399.20 C64.67,399.53 74.17,400.67 80.00,401.20 C85.83,401.73 90.77,401.97 96.60,402.40 C102.43,402.83 108.60,403.37 115.00,403.80 C121.40,404.23 129.17,404.72 135.00,405.00 C140.83,405.28 146.58,405.40 150.00,405.50 C153.42,405.60 153.83,405.77 155.50,405.60 C157.17,405.43 158.35,405.32 160.00,404.50 C161.65,403.68 164.07,402.12 165.40,400.70 C166.73,399.28 167.18,397.80 168.00,396.00 C168.82,394.20 169.42,392.57 170.30,389.90 C171.18,387.23 172.58,382.48 173.30,380.00 C174.02,377.52 174.02,377.77 174.60,375.00 C175.18,372.23 176.15,367.23 176.80,363.40 C177.45,359.57 177.95,356.87 178.50,352.00 C179.05,347.13 179.60,338.53 180.10,334.20 C180.60,329.87 180.98,329.53 181.50,326.00 C182.02,322.47 182.62,317.33 183.20,313.00 C183.78,308.67 184.28,303.52 185.00,300.00 C185.72,296.48 186.67,294.07 187.50,291.90 C188.33,289.73 189.05,288.23 190.00,287.00 C190.95,285.77 192.20,284.33 193.20,284.50 C194.20,284.67 195.02,286.42 196.00,288.00 C196.98,289.58 198.10,291.67 199.10,294.00 C200.10,296.33 200.95,299.18 202.00,302.00 C203.05,304.82 204.23,307.82 205.40,310.90 C206.57,313.98 207.77,317.33 209.00,320.50 C210.23,323.67 211.55,326.65 212.80,329.90 C214.05,333.15 215.27,336.65 216.50,340.00 C217.73,343.35 218.78,346.83 220.20,350.00 C221.62,353.17 223.18,356.12 225.00,359.00 C226.82,361.88 228.93,364.97 231.10,367.30 C233.27,369.63 235.20,371.12 238.00,373.00 C240.80,374.88 243.57,376.90 247.90,378.60 C252.23,380.30 258.42,382.05 264.00,383.20 C269.58,384.35 278.50,385.12 281.40,385.50" fill="none" stroke="#0f2d17" stroke-width="1.75" stroke-linejoin="round" stroke-linecap="round"/>
<path d="M61.60,398.50 C64.67,398.83 74.17,399.93 80.00,400.50 C85.83,401.07 90.77,401.42 96.60,401.90 C102.43,402.38 109.43,402.98 115.00,403.40 C120.57,403.82 125.83,404.13 130.00,404.40 C134.17,404.67 136.73,404.87 140.00,405.00 C143.27,405.13 147.10,405.35 149.60,405.20 C152.10,405.05 153.37,405.02 155.00,404.10 C156.63,403.18 158.23,401.22 159.40,399.70 C160.57,398.18 161.17,396.63 162.00,395.00 C162.83,393.37 163.52,392.40 164.40,389.90 C165.28,387.40 166.47,383.15 167.30,380.00 C168.13,376.85 168.62,374.67 169.40,371.00 C170.18,367.33 171.28,363.43 172.00,358.00 C172.72,352.57 173.20,343.40 173.70,338.40 C174.20,333.40 174.47,331.52 175.00,328.00 C175.53,324.48 176.32,320.63 176.90,317.30 C177.48,313.97 177.80,311.53 178.50,308.00 C179.20,304.47 180.27,299.02 181.10,296.10 C181.93,293.18 182.62,291.83 183.50,290.50 C184.38,289.17 185.40,288.13 186.40,288.10 C187.40,288.07 188.27,288.25 189.50,290.30 C190.73,292.35 192.55,297.28 193.80,300.40 C195.05,303.52 195.95,306.18 197.00,309.00 C198.05,311.82 199.02,314.63 200.10,317.30 C201.18,319.97 202.43,322.55 203.50,325.00 C204.57,327.45 205.42,329.58 206.50,332.00 C207.58,334.42 208.77,337.03 210.00,339.50 C211.23,341.97 212.57,344.38 213.90,346.80 C215.23,349.22 216.32,351.42 218.00,354.00 C219.68,356.58 222.00,359.80 224.00,362.30 C226.00,364.80 228.02,367.12 230.00,369.00 C231.98,370.88 232.92,371.82 235.90,373.60 C238.88,375.38 243.22,377.88 247.90,379.70 C252.58,381.52 258.42,383.23 264.00,384.50 C269.58,385.77 278.50,386.83 281.40,387.30" fill="none" stroke="#26d816" stroke-width="1.75" stroke-linejoin="round" stroke-linecap="round"/>
<path d="M61.60,396.60 C64.67,397.08 74.17,398.70 80.00,399.50 C85.83,400.30 91.60,400.88 96.60,401.40 C101.60,401.92 105.27,402.23 110.00,402.60 C114.73,402.97 121.00,403.37 125.00,403.60 C129.00,403.83 131.75,404.07 134.00,404.00 C136.25,403.93 137.25,404.07 138.50,403.20 C139.75,402.33 140.45,401.02 141.50,398.80 C142.55,396.58 143.88,392.70 144.80,389.90 C145.72,387.10 146.17,385.07 147.00,382.00 C147.83,378.93 149.07,374.60 149.80,371.50 C150.53,368.40 150.87,366.15 151.40,363.40 C151.93,360.65 152.47,358.52 153.00,355.00 C153.53,351.48 153.98,346.30 154.60,342.30 C155.22,338.30 156.00,334.55 156.70,331.00 C157.40,327.45 158.25,323.83 158.80,321.00 C159.35,318.17 159.47,316.33 160.00,314.00 C160.53,311.67 161.33,308.97 162.00,307.00 C162.67,305.03 163.20,303.38 164.00,302.20 C164.80,301.02 165.88,299.98 166.80,299.90 C167.72,299.82 168.52,299.52 169.50,301.70 C170.48,303.88 171.62,309.70 172.70,313.00 C173.78,316.30 174.77,318.33 176.00,321.50 C177.23,324.67 178.85,329.00 180.10,332.00 C181.35,335.00 182.27,337.03 183.50,339.50 C184.73,341.97 186.08,344.38 187.50,346.80 C188.92,349.22 190.58,351.80 192.00,354.00 C193.42,356.20 194.67,358.10 196.00,360.00 C197.33,361.90 198.33,363.48 200.00,365.40 C201.67,367.32 204.00,369.70 206.00,371.50 C208.00,373.30 209.00,374.58 212.00,376.20 C215.00,377.82 220.00,379.90 224.00,381.20 C228.00,382.50 232.02,383.23 236.00,384.00 C239.98,384.77 243.23,385.20 247.90,385.80 C252.57,386.40 258.42,387.12 264.00,387.60 C269.58,388.08 278.50,388.52 281.40,388.70" fill="none" stroke="#7df230" stroke-width="1.75" stroke-linejoin="round" stroke-linecap="round"/>
<path d="M61.60,392.30 C63.83,392.80 70.27,394.23 75.00,395.30 C79.73,396.37 85.83,397.75 90.00,398.70 C94.17,399.65 97.58,400.45 100.00,401.00 C102.42,401.55 103.17,401.87 104.50,402.00 C105.83,402.13 106.92,402.22 108.00,401.80 C109.08,401.38 110.00,400.63 111.00,399.50 C112.00,398.37 112.83,397.25 114.00,395.00 C115.17,392.75 116.50,389.33 118.00,386.00 C119.50,382.67 121.70,378.50 123.00,375.00 C124.30,371.50 124.90,368.33 125.80,365.00 C126.70,361.67 127.55,358.33 128.40,355.00 C129.25,351.67 130.08,348.33 130.90,345.00 C131.72,341.67 132.58,337.83 133.30,335.00 C134.02,332.17 134.58,330.00 135.20,328.00 C135.82,326.00 136.33,324.45 137.00,323.00 C137.67,321.55 138.45,320.13 139.20,319.30 C139.95,318.47 140.62,317.95 141.50,318.00 C142.38,318.05 143.38,318.43 144.50,319.60 C145.62,320.77 146.95,322.85 148.20,325.00 C149.45,327.15 150.58,329.62 152.00,332.50 C153.42,335.38 155.20,339.22 156.70,342.30 C158.20,345.38 159.23,347.97 161.00,351.00 C162.77,354.03 165.30,358.08 167.30,360.50 C169.30,362.92 170.90,363.97 173.00,365.50 C175.10,367.03 177.07,368.40 179.90,369.70 C182.73,371.00 186.65,372.15 190.00,373.30 C193.35,374.45 196.33,375.48 200.00,376.60 C203.67,377.72 208.00,379.03 212.00,380.00 C216.00,380.97 220.00,381.73 224.00,382.40 C228.00,383.07 232.02,383.55 236.00,384.00 C239.98,384.45 243.23,384.78 247.90,385.10 C252.57,385.42 258.42,385.70 264.00,385.90 C269.58,386.10 278.50,386.23 281.40,386.30" fill="none" stroke="#3f8fd2" stroke-width="1.75" stroke-linejoin="round" stroke-linecap="round"/>
<path d="M61.60,381.80 C62.33,382.42 64.60,384.53 66.00,385.50 C67.40,386.47 68.60,387.17 70.00,387.60 C71.40,388.03 73.07,388.45 74.40,388.10 C75.73,387.75 76.88,387.08 78.00,385.50 C79.12,383.92 80.10,381.35 81.10,378.60 C82.10,375.85 83.12,372.52 84.00,369.00 C84.88,365.48 85.65,361.50 86.40,357.50 C87.15,353.50 87.68,349.58 88.50,345.00 C89.32,340.42 90.38,335.50 91.30,330.00 C92.22,324.50 92.88,319.22 94.00,312.00 C95.12,304.78 96.83,293.37 98.00,286.70 C99.17,280.03 100.17,275.62 101.00,272.00 C101.83,268.38 102.33,266.53 103.00,265.00 C103.67,263.47 104.33,262.97 105.00,262.80 C105.67,262.63 106.25,262.80 107.00,264.00 C107.75,265.20 108.58,267.08 109.50,270.00 C110.42,272.92 111.50,277.92 112.50,281.50 C113.50,285.08 114.50,288.50 115.50,291.50 C116.50,294.50 117.50,296.58 118.50,299.50 C119.50,302.42 120.50,305.58 121.50,309.00 C122.50,312.42 123.58,316.67 124.50,320.00 C125.42,323.33 126.17,326.50 127.00,329.00 C127.83,331.50 128.50,333.53 129.50,335.00 C130.50,336.47 131.63,337.10 133.00,337.80 C134.37,338.50 135.52,338.67 137.70,339.20 C139.88,339.73 142.93,340.32 146.10,341.00 C149.27,341.68 153.17,342.37 156.70,343.30 C160.23,344.23 163.43,345.50 167.30,346.60 C171.17,347.70 174.45,348.67 179.90,349.90 C185.35,351.13 192.67,352.77 200.00,354.00 C207.33,355.23 215.92,356.35 223.90,357.30 C231.88,358.25 241.22,359.12 247.90,359.70 C254.58,360.28 258.42,360.45 264.00,360.80 C269.58,361.15 278.50,361.63 281.40,361.80" fill="none" stroke="#141c70" stroke-width="1.75" stroke-linejoin="round" stroke-linecap="round"/>
<rect x="61.85" y="256.05" width="219.54999999999998" height="150.64999999999998" fill="none" stroke="#2e2e2e" stroke-width="1.35"/>
<circle cx="281.0" cy="361.9" r="1.4" fill="#141c70"/>
<line x1="290" y1="265.4" x2="310" y2="265.4" stroke="#0f2d17" stroke-width="1.8"/><text x="317.6" y="270.6" font-family="Liberation Serif" font-style="italic" font-size="13.2">θ</text><text x="326.9" y="270.7" font-size="11" transform="translate(327,0) scale(0.9,1) translate(-327,0)">=</text><text x="349.2" y="270.6" text-anchor="end">5</text><circle cx="352.3" cy="263.1" r="1.0" fill="none" stroke="#333" stroke-width="0.5"/><line x1="290" y1="280.0" x2="310" y2="280.0" stroke="#26d816" stroke-width="1.8"/><text x="317.6" y="285.2" font-family="Liberation Serif" font-style="italic" font-size="13.2">θ</text><text x="326.9" y="285.3" font-size="11" transform="translate(327,0) scale(0.9,1) translate(-327,0)">=</text><text x="349.2" y="285.2" text-anchor="end">15</text><circle cx="352.3" cy="277.7" r="1.0" fill="none" stroke="#333" stroke-width="0.5"/><line x1="290" y1="294.2" x2="310" y2="294.2" stroke="#7df230" stroke-width="1.8"/><text x="317.6" y="299.4" font-family="Liberation Serif" font-style="italic" font-size="13.2">θ</text><text x="326.9" y="299.5" font-size="11" transform="translate(327,0) scale(0.9,1) translate(-327,0)">=</text><text x="349.2" y="299.4" text-anchor="end">30</text><circle cx="352.3" cy="291.9" r="1.0" fill="none" stroke="#333" stroke-width="0.5"/><line x1="290" y1="308.6" x2="310" y2="308.6" stroke="#3f8fd2" stroke-width="1.8"/><text x="317.6" y="313.8" font-family="Liberation Serif" font-style="italic" font-size="13.2">θ</text><text x="326.9" y="313.9" font-size="11" transform="translate(327,0) scale(0.9,1) translate(-327,0)">=</text><text x="349.2" y="313.8" text-anchor="end">45</text><circle cx="352.3" cy="306.3" r="1.0" fill="none" stroke="#333" stroke-width="0.5"/><line x1="290" y1="322.8" x2="310" y2="322.8" stroke="#141c70" stroke-width="1.8"/><text x="317.6" y="328.0" font-family="Liberation Serif" font-style="italic" font-size="13.2">θ</text><text x="326.9" y="328.1" font-size="11" transform="translate(327,0) scale(0.9,1) translate(-327,0)">=</text><text x="349.2" y="328.0" text-anchor="end">60</text><circle cx="352.3" cy="320.5" r="1.0" fill="none" stroke="#333" stroke-width="0.5"/>
</svg>
</body></html>
